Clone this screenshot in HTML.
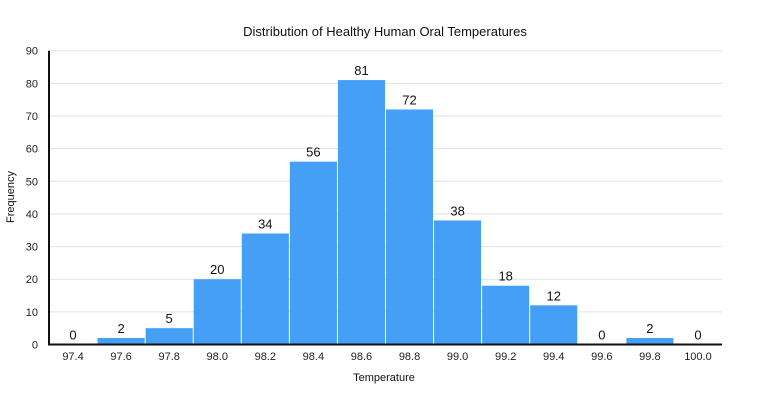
<!DOCTYPE html>
<html><head><meta charset="utf-8"><style>
body{margin:0;background:#fff;}
svg{display:block;font-family:"Liberation Sans",Arial,sans-serif;}
</style></head><body>
<svg id="chart" width="768" height="404">
<text x="385" y="36" text-anchor="middle" font-size="13" fill="#111">Distribution of Healthy Human Oral Temperatures</text>
<text x="384" y="381" text-anchor="middle" font-size="11" fill="#111">Temperature</text>
<text transform="translate(14,197) rotate(-90)" text-anchor="middle" font-size="11" fill="#111">Frequency</text>
<g id="grid"></g><g id="bars"></g><g id="labels"></g><g id="axes"></g>
</svg>
<script>
const categories=["97.4","97.6","97.8","98.0","98.2","98.4","98.6","98.8","99.0","99.2","99.4","99.6","99.8","100.0"];
const values=[0,2,5,20,34,56,81,72,38,18,12,0,2,0];
const yTicks=[0,10,20,30,40,50,60,70,80,90];
const NS="http://www.w3.org/2000/svg";
const L=49,R=722,B=344.5,T=50.7,YMAX=90;
const bw=(R-L)/categories.length;
const y=v=>B-(v/YMAX)*(B-T);
const x=i=>L+i*bw;
function mk(t,a,p){const e=document.createElementNS(NS,t);for(const k in a)e.setAttribute(k,a[k]);p.appendChild(e);return e;}
const grid=document.getElementById('grid'),bars=document.getElementById('bars'),labels=document.getElementById('labels'),axes=document.getElementById('axes');
yTicks.forEach(t=>{
 if(t>0){const g=mk('line',{x1:L,x2:R,y1:y(t),y2:y(t),stroke:'#e2e2e2','stroke-width':1},grid);
 
 }
 const tx=mk('text',{x:38,y:y(t)+4,'text-anchor':'end','font-size':11,fill:'#222'},axes);tx.textContent=t;
 
 
});
categories.forEach((c,i)=>{
 const v=values[i];
 if(v>0){const r=mk('rect',{x:x(i)+0.5,y:y(v),width:bw-1,height:B-y(v),fill:'#459ff5'},bars);
 
 }
 const vl=mk('text',{x:x(i)+bw/2,y:y(v)-5,'text-anchor':'middle','font-size':13,fill:'#111'},labels);vl.textContent=v;
 
 
 const cl=mk('text',{x:x(i)+bw/2,y:360,'text-anchor':'middle','font-size':11,fill:'#222'},axes);cl.textContent=c;
 
 
});
const xa=mk('line',{x1:L-1,x2:R,y1:B,y2:B,stroke:'#111','stroke-width':2},axes);


const ya=mk('line',{x1:L,x2:L,y1:T,y2:B+1,stroke:'#111','stroke-width':2},axes);


</script>
</body></html>
